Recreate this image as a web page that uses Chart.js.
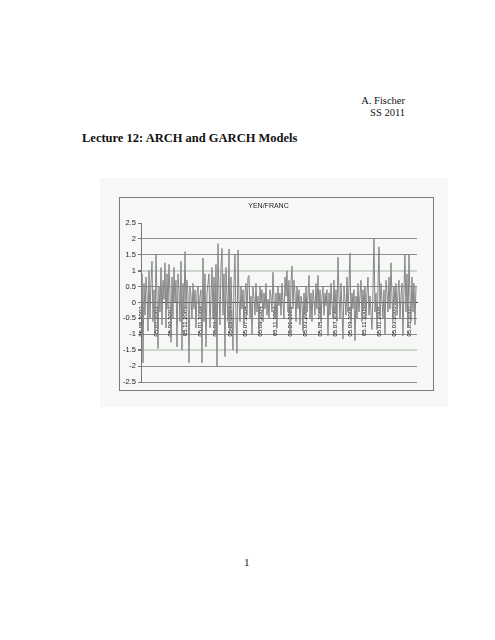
<!DOCTYPE html>
<html>
<head>
<meta charset="utf-8">
<script src="https://cdn.jsdelivr.net/npm/chart.js@4.4.1/dist/chart.umd.min.js"></script>
<style>
html,body{margin:0;padding:0;background:#fff;width:495px;height:640px;overflow:hidden;position:relative;}
.hdr{position:absolute;right:90px;text-align:right;font-family:"Liberation Serif",serif;font-size:10.5px;line-height:12px;color:#111;}
#title{position:absolute;left:82px;top:131px;font:bold 12.5px/15px "Liberation Serif",serif;color:#111;white-space:nowrap;}
#panel{position:absolute;left:100px;top:178px;width:348px;height:229px;background:#f5f8f5;}
#box{position:absolute;left:119px;top:197px;width:313px;height:192px;border:1px solid #7a7a7a;background:#f5f8f5;}
#box canvas{position:absolute;left:0;top:0;}
#pnum{position:absolute;left:244px;top:555px;font:11px/14px "Liberation Serif",serif;color:#111;}
</style>
</head>
<body>
<div class="hdr" style="top:95px;">A. Fischer</div>
<div class="hdr" style="top:107px;">SS 2011</div>
<div id="title">Lecture 12: ARCH and GARCH Models</div>
<div id="panel"></div>
<div id="box"><canvas id="c" width="313" height="192"></canvas></div>
<div id="pnum">1</div>
<script>
// Tick labels (every second month)
const tickLabels = ['05.05.2003','05.07.2003','05.09.2003','05.11.2003','05.01.2004','05.03.2004',
  '05.05.2004','05.07.2004','05.09.2004','05.11.2004','05.01.2005','05.03.2005','05.05.2005',
  '05.07.2005','05.09.2005','05.11.2005','05.01.2006','05.03.2006','05.05.2006'];

// YEN/FRANC series values, split by year
const yen2003 = [
  -0.3, 0.9, -1.9, 0.6, -0.4, 0.8, 0.3, -0.9, 1.0, -0.5,
  0.6, 1.3, -0.6, 0.4, -0.9, 1.5, 0.2, -1.45, 0.5, -0.3,
  1.1, -0.7, 0.7, 0.1, 1.25, -0.8, 0.9, -0.2, 1.2, 0.3,
  -1.25, 0.8, -0.5, 1.1, 0.0, 0.7, -1.4, 0.9, 0.4, -0.6,
  1.3, -1.5, 0.6, -0.3, 1.6, -0.2, 0.7, 0.3, -1.9, 0.5,
  0.2, -0.5, 0.6, -0.2, 0.4, -0.8, 0.3, 0.5, -0.3, 0.2];
const yen2004 = [
  0.4, -1.9, 1.4, -0.6, 0.9, -1.4, 0.3, 0.6, 0.9, -0.8,
  0.2, 1.1, -0.5, 0.8, -1.0, 1.2, -2.0, 1.85, 0.3, -0.7,
  1.1, 1.7, -0.4, 0.9, -1.7, 1.1, 0.2, -0.6, 1.68, -0.9,
  0.8, -0.3, -1.5, 0.6, 1.5, -0.5, -1.6, 1.65, 0.1, -0.6,
  0.5, -0.2, 0.4, -0.7, 0.3, 0.6, -0.4, 0.8, 0.85, -0.5,
  0.2, -1.0, 0.5, 0.1, -0.4, 0.6, -0.3, 0.2, -0.9, 0.5,
  0.0, 0.4, -0.6, 0.3, -0.2, 0.6, -0.4, 0.1, -0.5, 0.4,
  0.2, -0.3, 0.95, 0.1, -0.5, 0.3, -0.8, 0.5, -0.1, 0.3,
  -0.4, 0.6, 0.0, -0.5, 0.8, 0.2, 1.0, -0.3, 0.7, -1.0];
const yen2005 = [
  0.6, 1.15, -0.2, 0.7, 0.3, -0.6, 0.5, -0.2, 0.4, -0.7,
  0.2, 0.0, -0.9, 0.3, -0.4, 0.5, -0.3, 0.2, 0.85, -0.5,
  0.3, -0.6, 0.4, 0.1, -0.4, 0.6, -0.2, 0.85, -0.3, 0.4,
  -0.6, 0.2, 0.5, -0.4, 0.3, -0.1, 0.4, -1.05, 0.3, -0.4,
  0.6, 0.0, -0.5, 0.7, -0.3, 0.4, -0.6, 1.42, 0.2, -0.5,
  0.6, -0.2, -1.15, 0.5, 0.1, -0.4, 0.8, -0.3, 0.5, 1.55,
  -0.6, 0.3, -0.2, 0.4, -1.2, 0.2, -0.5, 0.6, -0.3, 0.2,
  0.7, -0.6, 0.4, -0.2, 0.5, -0.5, 0.3, 0.8, -0.4, 0.2,
  -0.3, -0.85, 0.4, 2.0, -0.3, 0.3, -0.85, 0.5, 1.75];
const yen2006 = [
  -0.4, 0.6, 0.1, -0.5, 0.4, -1.0, 0.7, 0.3, -0.3, 0.8,
  -0.2, 1.25, 0.2, -0.6, 0.5, -0.1, 0.6, -0.4, 0.3, 0.7,
  -0.5, 0.2, 0.6, -1.05, 0.4, 1.5, -0.3, 0.9, -0.8, 1.5,
  0.2, -0.6, 0.8, -0.3, 0.6, -0.7, 0.5];

const pointsPerMonth = 7.46;   // sampling: observations per month
const monthsShown = 37;        // 05.05.2003 .. early June 2006

const series = [].concat(yen2003, yen2004, yen2005, yen2006);
const points = series.map((v, i) => ({ x: i / pointsPerMonth, y: v }));

new Chart(document.getElementById('c'), {
  type: 'line',
  data: {
    datasets: [{
      label: 'YEN/FRANC',
      data: points,
      borderColor: '#858585',
      borderWidth: 1,
      pointRadius: 0,
      tension: 0,
      fill: false
    }]
  },
  options: {
    responsive: false,
    animation: false,
    layout: { padding: { left: 0, right: 16, top: 0, bottom: 8 } },
    plugins: {
      legend: { display: false },
      tooltip: { enabled: false },
      title: {
        display: true,
        text: 'YEN/FRANC',
        color: '#222',
        font: { family: 'Liberation Sans', size: 7, weight: 'normal' },
        padding: { top: 4, bottom: 12.6 }
      }
    },
    scales: {
      x: {
        type: 'linear',
        position: { y: 0 },
        min: 0,
        max: monthsShown,
        grid: { display: false, drawTicks: false },
        border: { display: true, color: '#444', width: 1 },
        ticks: {
          stepSize: 2,
          includeBounds: false,
          autoSkip: false,
          minRotation: 90,
          maxRotation: 90,
          padding: 4,
          color: '#000',
          font: { family: 'Liberation Sans', size: 6 },
          callback: (v) => tickLabels[Math.round(v / 2)] || ''
        }
      },
      y: {
        type: 'linear',
        min: -2.5,
        max: 2.5,
        afterFit: (s) => { s.width = 21; },
        border: { display: true, color: '#777', width: 1 },
        grid: {
          drawTicks: true,
          tickLength: 3,
          tickColor: '#777',
          color: (ctx) => {
            const v = ctx.tick ? ctx.tick.value : null;
            if (v === 2.5) return 'rgba(0,0,0,0)';
            if (v === 0) return '#555';
            if (v === 1 || v === -1.5) return '#cfd5cf';
            return '#8c8c8c';
          },
          lineWidth: (ctx) => {
            const v = ctx.tick ? ctx.tick.value : null;
            return (v === 1 || v === -1.5) ? 2 : 1;
          }
        },
        ticks: {
          stepSize: 0.5,
          padding: 2,
          color: '#222',
          font: { family: 'Liberation Sans', size: 7.5 },
          callback: (v) => String(Math.round(v * 10) / 10)
        }
      }
    }
  }
});
</script>
</body>
</html>
